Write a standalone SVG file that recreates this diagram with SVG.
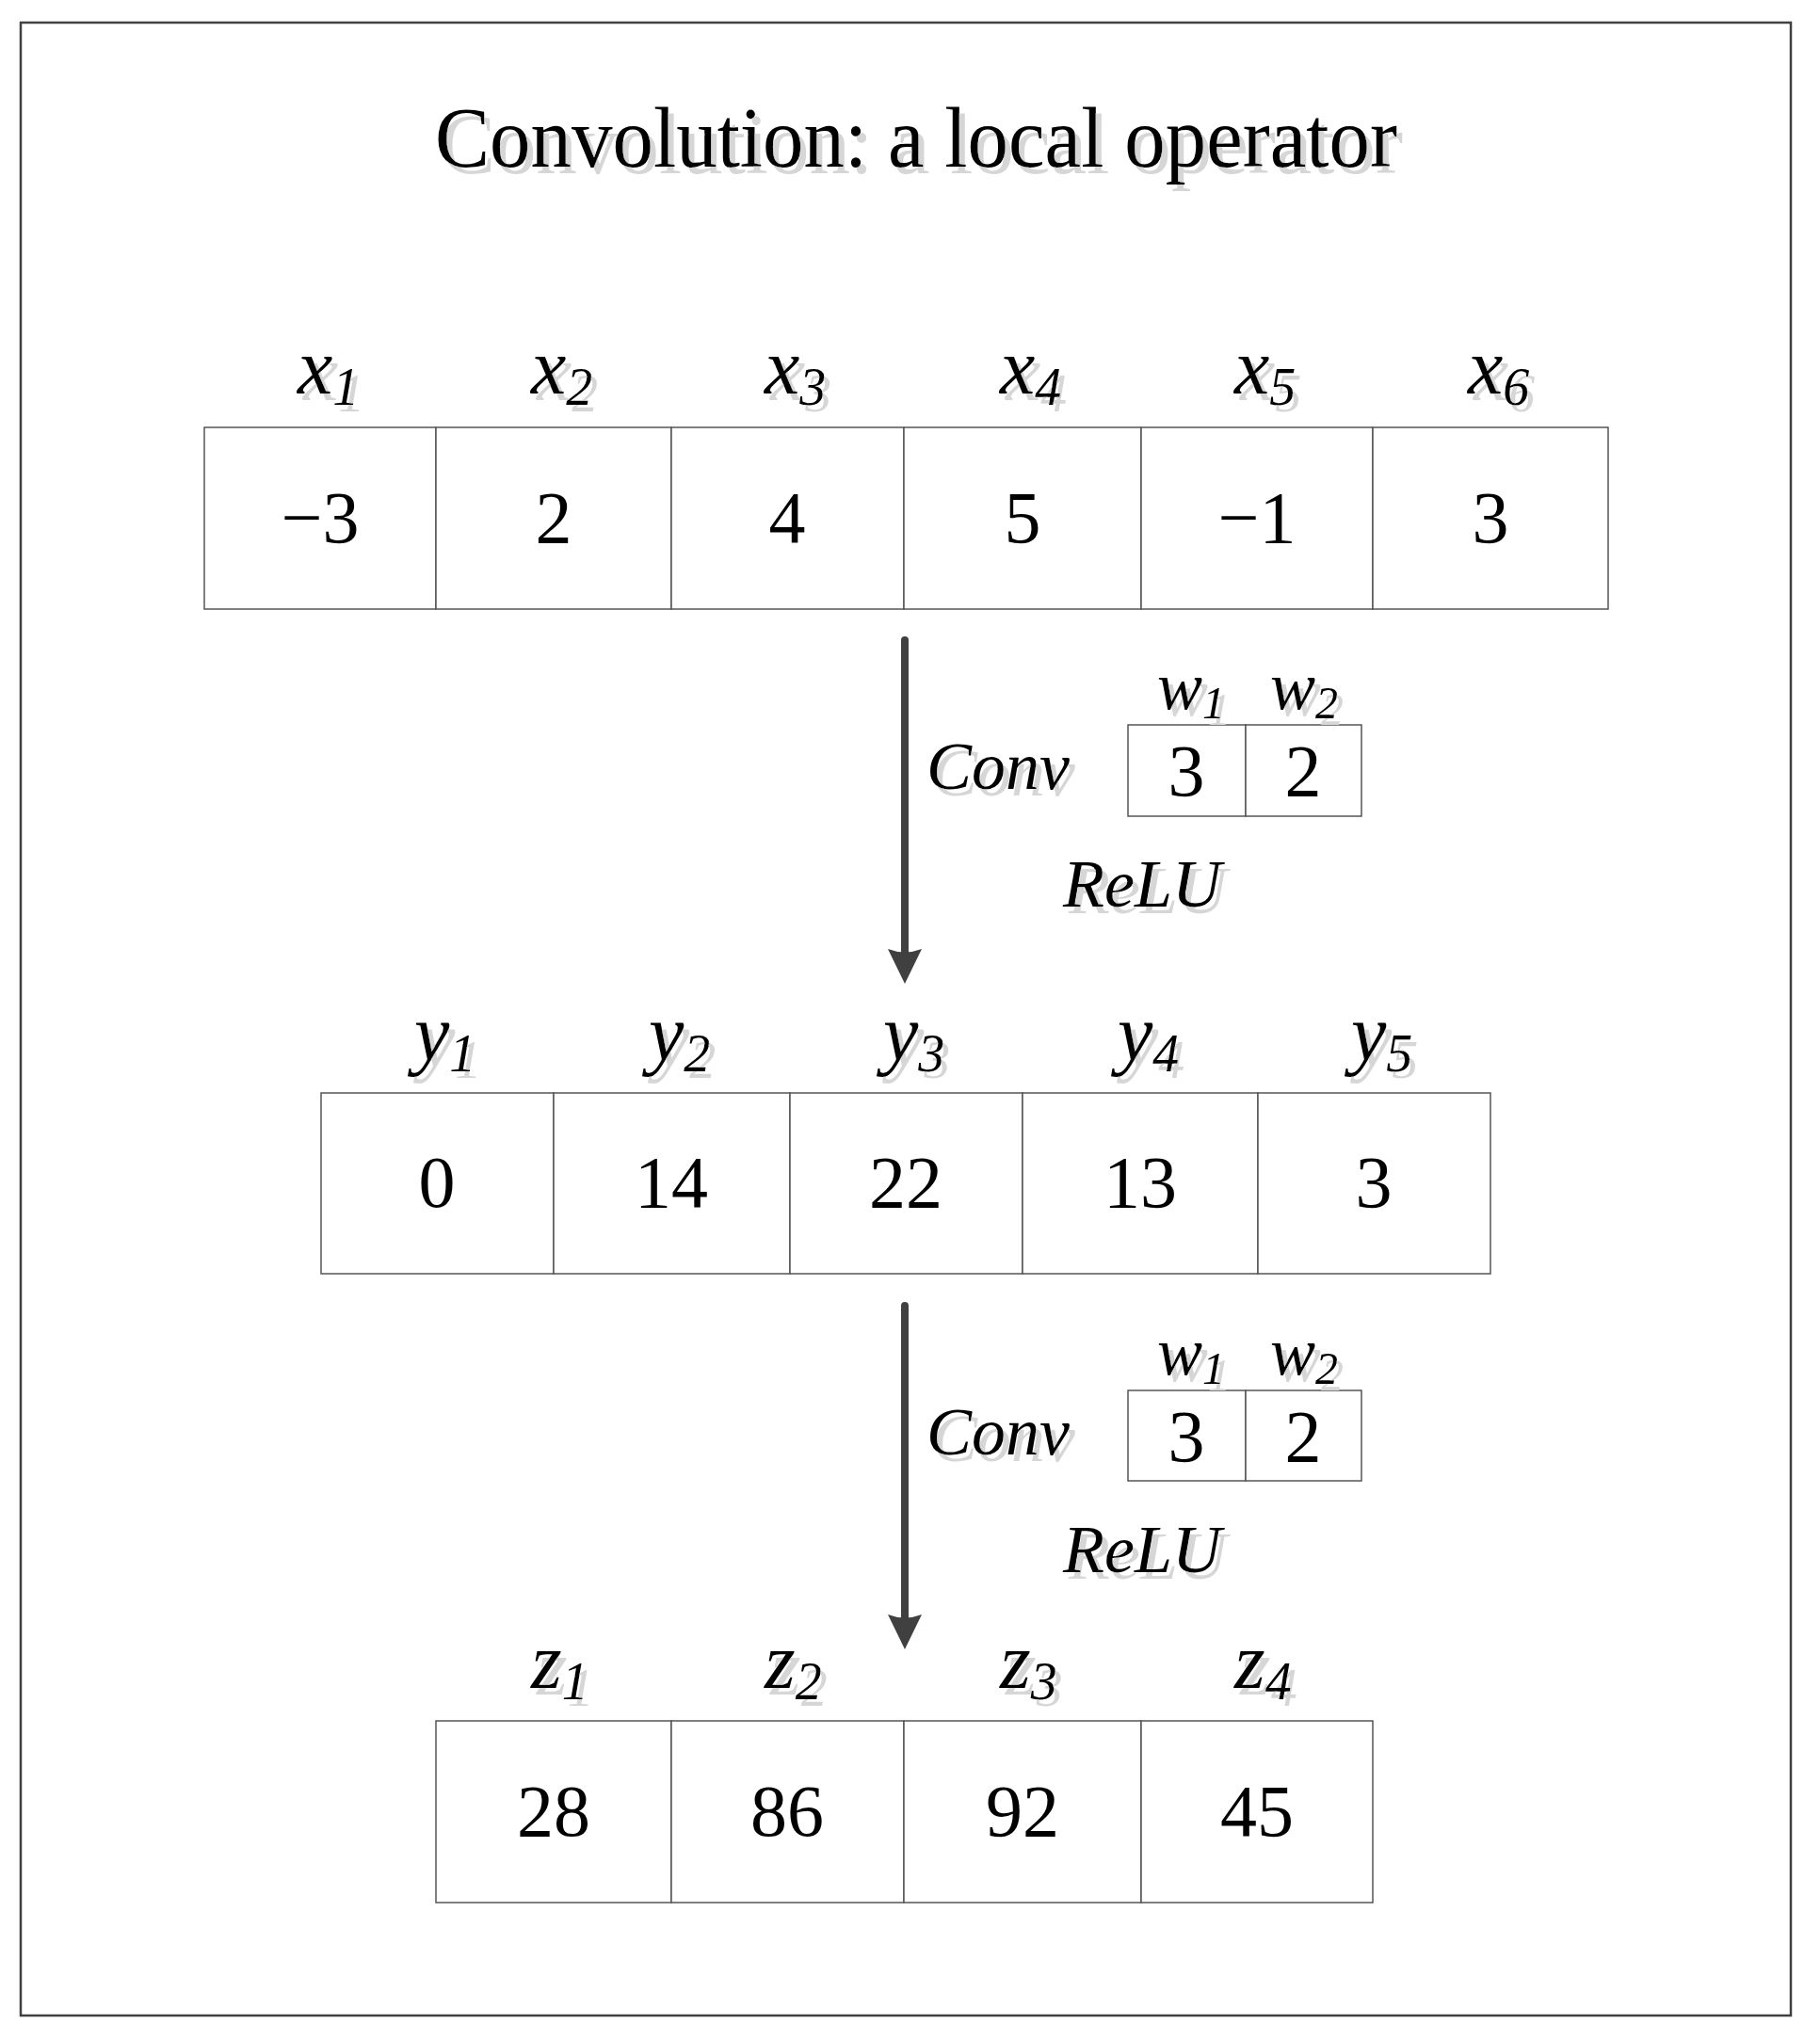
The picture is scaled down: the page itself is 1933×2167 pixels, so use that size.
<svg xmlns="http://www.w3.org/2000/svg" width="1933" height="2167" viewBox="0 0 1933 2167">
<defs>
<filter id="shadow" x="-10%" y="-20%" width="125%" height="160%">
<feDropShadow dx="6" dy="7" stdDeviation="0" flood-color="#d6d6d6" flood-opacity="1"/>
</filter>
</defs>
<style>
text{font-family:"Liberation Serif","Times New Roman",serif;fill:#000}
.sd{filter:url(#shadow)}
.num{font-size:78px;text-anchor:middle}
.lab{font-size:84px;font-style:italic}
.sub{font-size:56px}
.wl{font-size:72px;font-style:italic}
.ws{font-size:48px}
.op{font-size:72px;font-style:italic}
.cell{fill:#fff;stroke:#555;stroke-width:1.5}
.frame{fill:#fff;stroke:#404040;stroke-width:2.5}
.shaft{stroke:#404040;stroke-width:8;stroke-linecap:round;fill:none}
.head{fill:#404040}
</style>
<rect class="frame" x="22" y="24" width="1880" height="2117"/>
<g id="title">
<text class="sd" x="462" y="177" font-size="90" textLength="1022" lengthAdjust="spacingAndGlyphs">Convolution: a local operator</text>
</g>
<g id="connectors">
<g id="arrow1"><line class="shaft" x1="961" y1="680" x2="961" y2="1012"/><path class="head" d="M943 1008 Q961 1015 979 1008 L961 1045 Z"/></g>
<g id="arrow2"><line class="shaft" x1="961" y1="1387" x2="961" y2="1719"/><path class="head" d="M943 1715 Q961 1722 979 1715 L961 1752 Z"/></g>
</g>
<g id="row-x">
<g id="x1"><rect class="cell" x="217" y="454" width="246" height="193"/><text class="lab sd" x="316" y="418">x<tspan class="sub" dy="12">1</tspan></text><text class="num" x="340" y="576">−3</text></g>
<g id="x2"><rect class="cell" x="463" y="454" width="250" height="193"/><text class="lab sd" x="564" y="418">x<tspan class="sub" dy="12">2</tspan></text><text class="num" x="588" y="576">2</text></g>
<g id="x3"><rect class="cell" x="713" y="454" width="247" height="193"/><text class="lab sd" x="812" y="418">x<tspan class="sub" dy="12">3</tspan></text><text class="num" x="836" y="576">4</text></g>
<g id="x4"><rect class="cell" x="960" y="454" width="252" height="193"/><text class="lab sd" x="1062" y="418">x<tspan class="sub" dy="12">4</tspan></text><text class="num" x="1086" y="576">5</text></g>
<g id="x5"><rect class="cell" x="1212" y="454" width="246" height="193"/><text class="lab sd" x="1311" y="418">x<tspan class="sub" dy="12">5</tspan></text><text class="num" x="1335" y="576">−1</text></g>
<g id="x6"><rect class="cell" x="1458" y="454" width="250" height="193"/><text class="lab sd" x="1559" y="418">x<tspan class="sub" dy="12">6</tspan></text><text class="num" x="1583" y="576">3</text></g>
</g>
<g id="op1">
<text class="op sd" x="984" y="838">Conv</text>
<text class="op sd" x="1129" y="963">ReLU</text>
<g id="w1a"><rect class="cell" x="1198" y="770" width="125" height="97"/><text class="wl sd" x="1229" y="753">w<tspan class="ws" dy="10">1</tspan></text><text class="num" x="1260" y="845">3</text></g>
<g id="w2a"><rect class="cell" x="1323" y="770" width="123" height="97"/><text class="wl sd" x="1349" y="753">w<tspan class="ws" dy="10">2</tspan></text><text class="num" x="1384" y="845">2</text></g>
</g>
<g id="row-y">
<g id="y1"><rect class="cell" x="341" y="1161" width="247" height="192"/><text class="lab sd" x="440" y="1126">y<tspan class="sub" dy="12">1</tspan></text><text class="num" x="464" y="1282">0</text></g>
<g id="y2"><rect class="cell" x="588" y="1161" width="251" height="192"/><text class="lab sd" x="689" y="1126">y<tspan class="sub" dy="12">2</tspan></text><text class="num" x="713" y="1282">14</text></g>
<g id="y3"><rect class="cell" x="839" y="1161" width="247" height="192"/><text class="lab sd" x="938" y="1126">y<tspan class="sub" dy="12">3</tspan></text><text class="num" x="962" y="1282">22</text></g>
<g id="y4"><rect class="cell" x="1086" y="1161" width="250" height="192"/><text class="lab sd" x="1187" y="1126">y<tspan class="sub" dy="12">4</tspan></text><text class="num" x="1211" y="1282">13</text></g>
<g id="y5"><rect class="cell" x="1336" y="1161" width="247" height="192"/><text class="lab sd" x="1435" y="1126">y<tspan class="sub" dy="12">5</tspan></text><text class="num" x="1459" y="1282">3</text></g>
</g>
<g id="op2">
<text class="op sd" x="984" y="1545">Conv</text>
<text class="op sd" x="1129" y="1670">ReLU</text>
<g id="w1b"><rect class="cell" x="1198" y="1477" width="125" height="96"/><text class="wl sd" x="1229" y="1460">w<tspan class="ws" dy="10">1</tspan></text><text class="num" x="1260" y="1552">3</text></g>
<g id="w2b"><rect class="cell" x="1323" y="1477" width="123" height="96"/><text class="wl sd" x="1349" y="1460">w<tspan class="ws" dy="10">2</tspan></text><text class="num" x="1384" y="1552">2</text></g>
</g>
<g id="row-z">
<g id="z1"><rect class="cell" x="463" y="1828" width="250" height="193"/><text class="lab sd" x="564" y="1793">z<tspan class="sub" dy="12">1</tspan></text><text class="num" x="588" y="1950">28</text></g>
<g id="z2"><rect class="cell" x="713" y="1828" width="247" height="193"/><text class="lab sd" x="812" y="1793">z<tspan class="sub" dy="12">2</tspan></text><text class="num" x="836" y="1950">86</text></g>
<g id="z3"><rect class="cell" x="960" y="1828" width="252" height="193"/><text class="lab sd" x="1062" y="1793">z<tspan class="sub" dy="12">3</tspan></text><text class="num" x="1086" y="1950">92</text></g>
<g id="z4"><rect class="cell" x="1212" y="1828" width="246" height="193"/><text class="lab sd" x="1311" y="1793">z<tspan class="sub" dy="12">4</tspan></text><text class="num" x="1335" y="1950">45</text></g>
</g>
</svg>
